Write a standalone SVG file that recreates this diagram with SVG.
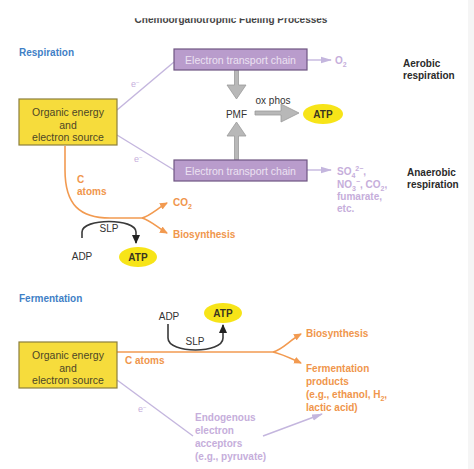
<svg xmlns="http://www.w3.org/2000/svg" width="474" height="469" viewBox="0 0 474 469">
<style>
text{font-family:"Liberation Sans",Arial,sans-serif}
.hdr{font-size:10px;font-weight:bold;fill:#3f7fc6}
.blk{font-size:10px;font-weight:bold;fill:#2a2a2a}
.box{fill:#f6dc3c;stroke:#8c7f3c;stroke-width:1.2}
.boxt{font-size:10.5px;fill:#4d4627;text-anchor:middle}
.etc{fill:#b99ccc;stroke:#6f5682;stroke-width:1.2}
.etct{font-size:10.5px;fill:#ece2f2;text-anchor:middle}
.atp{fill:#f7e418}
.atpt{font-size:10px;font-weight:bold;fill:#3a3520;text-anchor:middle}
.org{font-size:10px;font-weight:bold;fill:#f0964c}
.pur{font-size:10px;font-weight:bold;fill:#c6aedb}
.gry{font-size:10px;fill:#333}
.ol{stroke:#f29a50;stroke-width:1.6;fill:none}
.pl{stroke:#c4b6de;stroke-width:1.4;fill:none}
.ga{fill:#b8b8b8;stroke:#9a9a9a;stroke-width:0.8}
.kl{stroke:#3a3a3a;stroke-width:1.6;fill:none}
</style>
<defs>
<marker id="ao" markerWidth="8" markerHeight="8" refX="7" refY="4" orient="auto" markerUnits="userSpaceOnUse"><path d="M0,0.5 L8,4 L0,7.5 z" fill="#f29a50"/></marker>
<marker id="ap" markerWidth="11" markerHeight="8" refX="10" refY="4" orient="auto" markerUnits="userSpaceOnUse"><path d="M0,0.8 L11,4 L0,7.2 z" fill="#c4b6de"/></marker>
<marker id="ak" markerWidth="9" markerHeight="8" refX="8" refY="4" orient="auto" markerUnits="userSpaceOnUse"><path d="M0,0 L9,4 L0,8 z" fill="#222"/></marker>
<clipPath id="tc"><rect x="0" y="18.3" width="474" height="20"/></clipPath>
</defs>
<rect width="474" height="469" fill="#fff"/>
<rect x="468" y="0" width="6" height="469" fill="#f5f5f5"/>

<text x="231" y="22.5" text-anchor="middle" clip-path="url(#tc)" style="font-size:10px;font-weight:bold;fill:#444">Chemoorganotrophic Fueling Processes</text>

<text class="hdr" x="19" y="56">Respiration</text>
<text class="hdr" x="19" y="302">Fermentation</text>

<g id="connectors">
  <line class="pl" x1="117" y1="110" x2="174" y2="62"/>
  <line class="pl" x1="117" y1="135" x2="174" y2="170"/>
  <line class="pl" x1="307" y1="60" x2="331" y2="60" marker-end="url(#ap)"/>
  <line class="pl" x1="307" y1="170" x2="331" y2="170" marker-end="url(#ap)"/>
  <polygon class="ga" points="234.5,70 238.5,70 238.5,85 246,85 236.5,99 227,85 234.5,85"/>
  <polygon class="ga" points="234.5,160 238.5,160 238.5,136 246,136 236.5,122 227,136 234.5,136"/>
  <polygon class="ga" points="255,111 281,111 281,104 299,113 281,122 281,115 255,115"/>
  <path class="ol" d="M65,146 L65,170 C65,205 80,218 110,218 L142,218"/>
  <path class="ol" d="M142,218 C150,216 158,208 167,203" marker-end="url(#ao)"/>
  <path class="ol" d="M142,218 C150,220 158,228 167,233" marker-end="url(#ao)"/>
  <path class="kl" d="M82,238 L82,232 C82,218 136,218 136,232 L136,243" marker-end="url(#ak)"/>
  <line class="ol" x1="117" y1="352" x2="273" y2="352"/>
  <path class="ol" d="M273,352 C282,350 290,340 301,334" marker-end="url(#ao)"/>
  <path class="ol" d="M273,352 C282,354 290,358 301,363" marker-end="url(#ao)"/>
  <path class="kl" d="M168,324 L168,338 C168,354 223,354 223,338 L223,325" marker-end="url(#ak)"/>
  <line class="pl" x1="117" y1="380" x2="193" y2="436"/>
  <line class="pl" x1="263" y1="436" x2="322" y2="414" marker-end="url(#ap)"/>
</g>

<g id="src1">
  <rect class="box" x="19" y="99" width="98" height="46"/>
  <text class="boxt" x="68" y="116">Organic energy</text>
  <text class="boxt" x="68" y="128.5">and</text>
  <text class="boxt" x="68" y="141">electron source</text>
</g>
<g id="etc1">
  <rect class="etc" x="174" y="49" width="133" height="21"/>
  <text class="etct" x="240.5" y="63.5">Electron transport chain</text>
</g>
<g id="etc2">
  <rect class="etc" x="174" y="160" width="133" height="21"/>
  <text class="etct" x="240.5" y="174.5">Electron transport chain</text>
</g>
<g id="labels-resp">
  <text class="pur" x="131" y="87" style="font-weight:normal;font-size:9px">e<tspan dy="-3" font-size="6">−</tspan></text>
  <text class="pur" x="134" y="162" style="font-weight:normal;font-size:9px">e<tspan dy="-3" font-size="6">−</tspan></text>
  <text class="pur" x="335" y="64">O<tspan dy="3" font-size="7">2</tspan></text>
  <text class="pur" x="337" y="175">SO<tspan dy="3" font-size="7">4</tspan><tspan dy="-7" font-size="7">2−</tspan><tspan dy="4">,</tspan></text>
  <text class="pur" x="337" y="188">NO<tspan dy="3" font-size="7">3</tspan><tspan dy="-7" font-size="7">−</tspan><tspan dy="4">, CO</tspan><tspan dy="3" font-size="7">2</tspan><tspan dy="-3">,</tspan></text>
  <text class="pur" x="337" y="200">fumarate,</text>
  <text class="pur" x="337" y="212">etc.</text>
  <text class="gry" x="236.5" y="118" text-anchor="middle">PMF</text>
  <text class="gry" x="273" y="104" text-anchor="middle">ox phos</text>
  <text class="blk" x="403" y="67">Aerobic</text>
  <text class="blk" x="403" y="79">respiration</text>
  <text class="blk" x="407" y="176">Anaerobic</text>
  <text class="blk" x="407" y="188">respiration</text>
  <text class="org" x="77" y="183">C</text>
  <text class="org" x="77" y="195">atoms</text>
  <text class="org" x="173" y="206">CO<tspan dy="3" font-size="7">2</tspan></text>
  <text class="org" x="173" y="238">Biosynthesis</text>
  <text class="gry" x="109" y="232" text-anchor="middle">SLP</text>
  <text class="gry" x="82" y="260" text-anchor="middle">ADP</text>
</g>
<g id="atp1">
  <ellipse class="atp" cx="323" cy="114" rx="20" ry="10"/>
  <text class="atpt" x="323" y="118">ATP</text>
</g>
<g id="atp2">
  <ellipse class="atp" cx="138" cy="257" rx="19" ry="10"/>
  <text class="atpt" x="138" y="261">ATP</text>
</g>

<g id="src2">
  <rect class="box" x="19" y="342" width="98" height="46"/>
  <text class="boxt" x="68" y="359">Organic energy</text>
  <text class="boxt" x="68" y="371.5">and</text>
  <text class="boxt" x="68" y="384">electron source</text>
</g>
<g id="atp3">
  <ellipse class="atp" cx="223" cy="313" rx="19" ry="10"/>
  <text class="atpt" x="223" y="317">ATP</text>
</g>
<g id="labels-ferm">
  <text class="gry" x="169" y="320" text-anchor="middle">ADP</text>
  <text class="gry" x="195" y="345" text-anchor="middle">SLP</text>
  <text class="org" x="125" y="364">C atoms</text>
  <text class="org" x="306" y="337">Biosynthesis</text>
  <text class="org" x="306" y="372">Fermentation</text>
  <text class="org" x="306" y="385">products</text>
  <text class="org" x="306" y="398">(e.g., ethanol, H<tspan dy="3" font-size="7">2</tspan><tspan dy="-3">,</tspan></text>
  <text class="org" x="306" y="411">lactic acid)</text>
  <text class="pur" x="138" y="412" style="font-weight:normal;font-size:9px">e<tspan dy="-3" font-size="6">−</tspan></text>
  <text class="pur" x="195" y="421">Endogenous</text>
  <text class="pur" x="195" y="434">electron</text>
  <text class="pur" x="195" y="447">acceptors</text>
  <text class="pur" x="195" y="460">(e.g., pyruvate)</text>
</g>
</svg>
